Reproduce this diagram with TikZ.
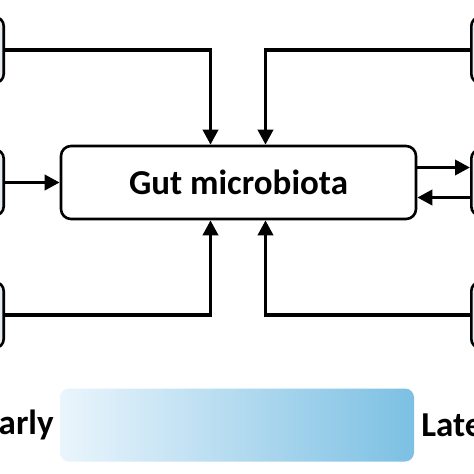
\documentclass[tikz,border=0pt]{standalone}
\usepackage{fontspec}
\setmainfont{Carlito}
\usepackage{xcolor}
\usetikzlibrary{arrows.meta,positioning,calc}
\definecolor{barlight}{HTML}{EAF5FC}
\definecolor{bardark}{HTML}{7CC0E3}
\definecolor{sidefill}{HTML}{E8EDF2}
\tikzset{
  gutbox/.style={
    rectangle, rounded corners=10pt, draw=black, line width=2.6pt,
    fill=white, minimum width=355pt, minimum height=73pt,
    font=\fontsize{35}{40}\selectfont\bfseries, align=center
  },
  sidebox/.style={
    rectangle, rounded corners=9pt, draw=black, line width=2.6pt,
    fill=sidefill, minimum width=60pt, minimum height=66pt
  },
  flow/.style={
    -{Triangle[length=15pt,width=15pt]}, line width=3.6pt, color=black
  },
  timebar/.style={
    rectangle, rounded corners=9pt, draw=none,
    left color=barlight, right color=bardark,
    minimum width=354pt, minimum height=73pt
  },
  timelabel/.style={font=\fontsize{35}{40}\selectfont\bfseries, inner sep=0pt}
}
\begin{document}
\begin{tikzpicture}[x=1pt, y=-1pt]
  \clip (0,0) rectangle (474,474);
  \fill[white] (0,0) rectangle (474,474);
  % central node
  \node[gutbox] (gut) at (238.5,182.5) {Gut microbiota};
  % inputs on the left
  \node[sidebox, anchor=east] (leftTop) at (5,50) {};
  \node[sidebox, anchor=east] (leftMid) at (5,182.5) {};
  \node[sidebox, anchor=east] (leftBot) at (5,315) {};
  % inputs on the right
  \node[sidebox, anchor=west] (rightTop) at (470,50) {};
  \node[sidebox, anchor=west] (rightMid) at (470,182.5) {};
  \node[sidebox, anchor=west] (rightBot) at (470,315) {};
  % connectors
  \draw[flow] (leftTop.east) -| ([xshift=-28pt]gut.north);
  \draw[flow] (rightTop.west) -| ([xshift=27pt]gut.north);
  \draw[flow] (leftBot.east) -| ([xshift=-28pt]gut.south);
  \draw[flow] (rightBot.west) -| ([xshift=27pt]gut.south);
  \draw[flow] (leftMid.east) -- (gut.west);
  \draw[flow] ([yshift=15pt]gut.east) -- ([yshift=15pt]rightMid.west);
  \draw[flow] ([yshift=-15pt]rightMid.west) -- ([yshift=-15pt]gut.east);
  % time axis
  \node[timebar] (bar) at (237,425) {};
  \node[timelabel, left=6pt of bar] (early) {Early};
  \node[timelabel, right=7pt of bar] (late) {Late};
\end{tikzpicture}
\end{document}
